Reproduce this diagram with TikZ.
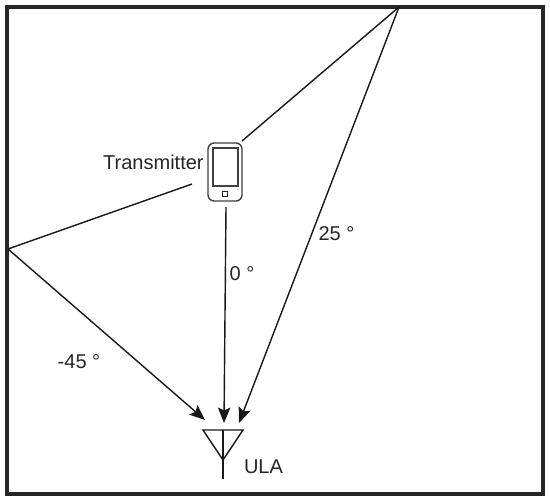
\documentclass[tikz,border=0pt]{standalone}
\usepackage{fontspec}
\setmainfont{Liberation Sans}
\usepackage{tikz}
\usetikzlibrary{arrows.meta,positioning}

\begin{document}
\begin{tikzpicture}[
  frame/.style={draw=black!85, line width=1.8pt},
  body/.style={draw=black!75, rounded corners=3.5pt, line width=0.8pt, inner sep=0pt, minimum width=0.68cm, minimum height=1.16cm},
  screen/.style={draw=black!75, line width=0.8pt, inner sep=0pt, minimum width=0.5cm, minimum height=0.76cm},
  homekey/.style={draw=black!85, line width=0.7pt, inner sep=0pt, minimum width=0.1cm, minimum height=0.1cm},
  wire/.style={black!90, line width=0.8pt},
  arrow/.style={wire, -{Stealth[length=0.31cm, width=0.25cm, inset=0.06cm]}},
  lbl/.style={inner sep=0pt, font=\fontsize{11.4}{13}\selectfont, text=black!85}
]
\useasboundingbox (0,0) rectangle (11,10.04);
\node[frame, minimum width=10.72cm, minimum height=9.74cm, inner sep=0pt] (room) at (5.5,5.03) {};
% phone
\node[body] (phone) at (4.5,6.6) {};
\node[screen] (display) at (4.51,6.7) {};
\node[homekey] (key) at (4.5,6.16) {};
\node[lbl, anchor=east] (tx) at (4.08,6.8) {Transmitter};
% reflection points and line ends
\coordinate (refltop) at (7.98,9.9);
\coordinate (reflleft) at (0.16,5.06);
\coordinate (txtop) at (4.84,7.22);
\coordinate (txleft) at (3.84,6.36);
\coordinate (txbot) at (4.52,5.9);
\coordinate (rxleft) at (4.1,1.64);
\coordinate (rxmid) at (4.48,1.58);
\coordinate (rxright) at (4.78,1.58);
% antenna
\coordinate (ulaleft) at (4.06,1.44);
\coordinate (ularight) at (4.86,1.44);
\coordinate (ulatip) at (4.46,0.84);
\coordinate (ulatop) at (4.46,1.44);
\coordinate (ulabot) at (4.46,0.46);
\draw[wire] (ulaleft) -- (ularight) -- (ulatip) -- cycle;
\draw[wire] (ulatop) -- (ulabot);
\node[lbl] (ula) at (5.27,0.7) {ULA};
% paths
\draw[wire] (txtop) -- (refltop);
\draw[arrow] (refltop) -- (rxright);
\draw[wire] (txleft) -- (reflleft);
\draw[arrow] (reflleft) -- (rxleft);
\draw[arrow] (txbot) -- (rxmid);
\node[lbl] (zero) at (4.84,4.56) {0 °};
\node[lbl] (pos) at (6.73,5.36) {25 °};
\node[lbl] (neg) at (1.58,2.8) {-45 °};
\end{tikzpicture}
\end{document}
